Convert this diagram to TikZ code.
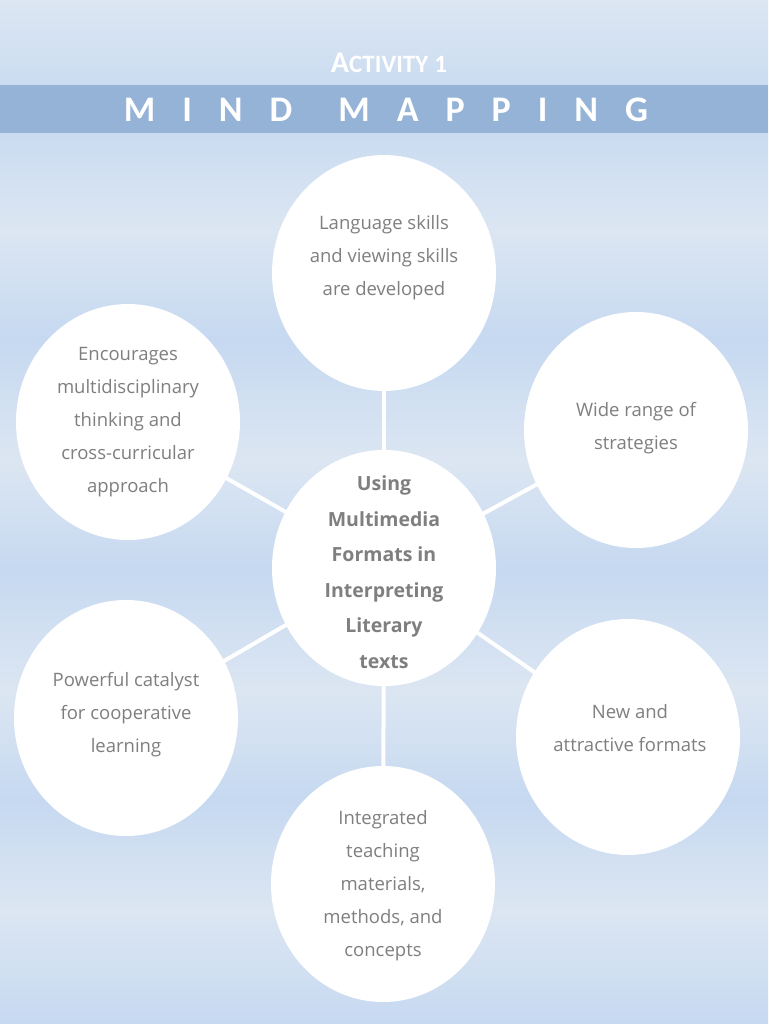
\documentclass[tikz,border=0pt]{standalone}
\usepackage{fontspec}
\setmainfont{Open Sans}
\newfontfamily\titlefont{Carlito}
\usetikzlibrary{shapes.geometric}
\definecolor{bgA}{HTML}{DCE6F2}
\definecolor{bgB}{HTML}{C6D9F1}
\definecolor{band}{HTML}{95B3D7}
\definecolor{txt}{HTML}{7F7F7F}
\tikzset{
 bub/.style={ellipse,fill=white,minimum width=224pt,minimum height=236pt,inner sep=0pt},
 lbl/.style={align=center,text=txt,font=\fontsize{18.5pt}{33pt}\selectfont},
 link/.style={white,line width=4pt}
}
\begin{document}
\begin{tikzpicture}[x=1pt,y=-1pt]
\useasboundingbox (0,0) rectangle (768,1024);
\shade[top color=bgA,bottom color=bgB] (0,0) rectangle (768,110);
\shade[top color=bgB,bottom color=bgA] (0,110) rectangle (768,230);
\shade[top color=bgA,bottom color=bgB] (0,230) rectangle (768,340);
\shade[top color=bgB,bottom color=bgA] (0,340) rectangle (768,460);
\shade[top color=bgA,bottom color=bgB] (0,460) rectangle (768,570);
\shade[top color=bgB,bottom color=bgA] (0,570) rectangle (768,690);
\shade[top color=bgA,bottom color=bgB] (0,690) rectangle (768,800);
\shade[top color=bgB,bottom color=bgA] (0,800) rectangle (768,910);
\shade[top color=bgA,bottom color=bgB] (0,910) rectangle (768,1024);
\fill[band] (0,85) rectangle (768,133);
\node[text=white,font=\titlefont\fontsize{30pt}{32pt}\selectfont\bfseries] (act) at (389,63) {A\fontsize{25pt}{28pt}\selectfont CTIVITY\hspace{6pt}1};
\node[text=white,font=\titlefont\fontsize{36pt}{38pt}\selectfont\bfseries] (title) at (386,110) {M\hspace{27pt}I\hspace{27pt}N\hspace{27pt}D\hspace{46pt}M\hspace{27pt}A\hspace{27pt}P\hspace{27pt}P\hspace{27pt}I\hspace{27pt}N\hspace{27pt}G};
\coordinate (c0) at (384,568);
\coordinate (p1) at (384,273);
\coordinate (p2) at (128,422);
\coordinate (p3) at (636,430);
\coordinate (p4) at (126,718);
\coordinate (p5) at (628,737);
\coordinate (p6) at (383,884);
\foreach \p in {p1,p2,p3,p4,p5,p6} \draw[link] (c0) -- (\p);
\node[bub] (n1) at (p1) {};
\node[bub] (n2) at (p2) {};
\node[bub] (n3) at (p3) {};
\node[bub] (n4) at (p4) {};
\node[bub] (n5) at (p5) {};
\node[bub] (n6) at (p6) {};
\node[bub] (c) at (c0) {};
\node[lbl] (t1) at (384,258) {Language skills\\and viewing skills\\are developed};
\node[lbl] (t2) at (128,422) {Encourages\\multidisciplinary\\thinking and\\cross-curricular\\approach};
\node[lbl] (t3) at (636,428) {Wide range of\\strategies};
\node[lbl] (t4) at (126,715) {Powerful catalyst\\for cooperative\\learning};
\node[lbl] (t5) at (630,728) {New and\\attractive formats};
\node[lbl] (t6) at (383,886) {Integrated\\teaching\\materials,\\methods, and\\concepts};
\node[lbl,text=txt,font=\fontsize{19.5pt}{35.5pt}\selectfont\bfseries] (tc) at (384,572) {Using\\Multimedia\\Formats in\\Interpreting\\Literary\\texts};
\end{tikzpicture}
\end{document}
